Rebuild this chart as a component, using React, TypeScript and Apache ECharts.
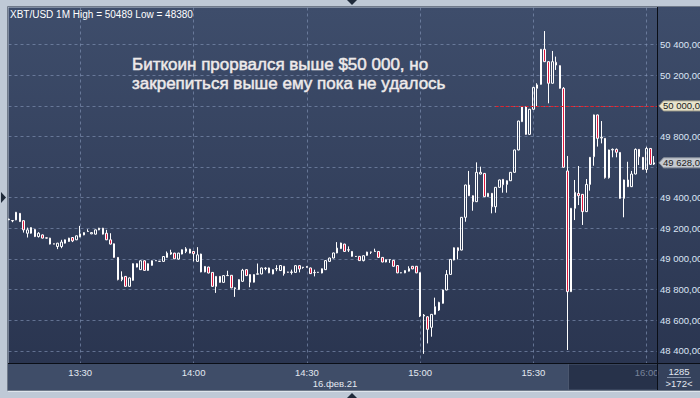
import { useEffect, useRef } from 'react';
import * as echarts from 'echarts';

// XBT/USD, one-minute bars, 16 Feb 2021
const instrument = 'XBT/USD';
const timeframe = '1M';
const sessionDate = '16.фев.21';
const firstBarTime = '13:11';
const tickCounter = 1285;

const opens = [
  49256, 49251, 49255, 49298, 49250, 49168, 49168, 49192, 49146, 49157,
  49138, 49136, 49099, 49081, 49081, 49103, 49114, 49140, 49125, 49144,
  49157, 49179, 49164, 49162, 49190, 49201, 49168, 49125, 49099, 49010,
  48865, 48886, 48821, 48860, 48969, 48930, 48988, 48925, 48958, 48988,
  48985, 48984, 49010, 49032, 49038, 48999, 49032, 49049, 49064, 49049,
  48984, 49032, 48915, 48947, 48912, 48821, 48886, 48847, 48891, 48893,
  48805, 48800, 48854, 48930, 48898, 48848, 48900, 48902, 48938, 48941,
  48902, 48935, 48924, 48952, 48914, 48912, 48912, 48956, 48944, 48945,
  48941, 48910, 48912, 48908, 48930, 48984, 49006, 49039, 49067, 49097,
  49060, 49049, 49017, 49017, 48989, 49023, 49045, 49049, 49049, 49010,
  48980, 48996, 48991, 48957, 48909, 48909, 48920, 48952, 48952, 48910,
  48627, 48622, 48553, 48638, 48666, 48710, 48797, 48899, 48993, 49073,
  49058, 49272, 49483, 49413, 49374, 49555, 49559, 49407, 49429, 49341,
  49468, 49520, 49487, 49511, 49566, 49712, 49897, 49995, 49814, 49978,
  50115, 50141, 50370, 50289, 50148, 50285, 50263, 50115, 49575, 48786,
  49331, 49428, 49422, 49309, 49487, 49668, 49941, 49790, 49788, 49531,
  49712, 49716, 49696, 49396, 49516, 49472, 49555, 49716, 49664, 49585,
  49722, 49620,
];

const closes = [
  49260, 49249, 49305, 49244, 49190, 49190, 49205, 49146, 49168, 49136,
  49136, 49097, 49097, 49103, 49110, 49125, 49136, 49118, 49151, 49164,
  49172, 49180, 49172, 49190, 49201, 49162, 49125, 49097, 49010, 48865,
  48882, 48821, 48876, 48969, 48947, 48988, 48925, 48969, 48988, 48989,
  48984, 49016, 49038, 49042, 49001, 49038, 49060, 49066, 49038, 49034,
  49027, 48915, 48951, 48908, 48821, 48886, 48847, 48891, 48892, 48811,
  48811, 48865, 48926, 48891, 48848, 48898, 48903, 48941, 48940, 48909,
  48930, 48937, 48957, 48904, 48913, 48915, 48956, 48934, 48946, 48951,
  48904, 48912, 48913, 48936, 48989, 49006, 49039, 49071, 49104, 49049,
  49058, 49017, 49016, 48989, 49021, 49045, 49044, 49050, 49010, 48980,
  48995, 48995, 48952, 48909, 48910, 48924, 48937, 48935, 48909, 48627,
  48633, 48540, 48638, 48688, 48716, 48797, 48899, 48997, 49073, 49054,
  49272, 49483, 49413, 49374, 49566, 49566, 49407, 49429, 49341, 49468,
  49516, 49485, 49511, 49566, 49712, 49901, 49995, 49814, 49978, 50121,
  50137, 50370, 50289, 50148, 50289, 50267, 50115, 49599, 48786, 49331,
  49435, 49413, 49309, 49487, 49664, 49941, 49788, 49795, 49531, 49712,
  49716, 49697, 49396, 49516, 49472, 49555, 49716, 49668, 49585, 49722,
  49618, 49628,
];

const lows = [
  49254, 49240, 49253, 49242, 49172, 49140, 49165, 49143, 49140, 49134,
  49134, 49095, 49096, 49064, 49070, 49101, 49112, 49110, 49123, 49142,
  49155, 49178, 49162, 49160, 49188, 49160, 49123, 49095, 49008, 48860,
  48854, 48819, 48819, 48858, 48945, 48928, 48923, 48923, 48956, 48987,
  48983, 48982, 49008, 49027, 48999, 48997, 49030, 49038, 49036, 48984,
  48982, 48913, 48913, 48906, 48819, 48778, 48845, 48845, 48889, 48809,
  48752, 48798, 48850, 48889, 48815, 48846, 48899, 48900, 48926, 48907,
  48900, 48920, 48922, 48891, 48911, 48898, 48910, 48912, 48936, 48943,
  48902, 48886, 48911, 48906, 48928, 48982, 49004, 49037, 49065, 49047,
  49045, 49015, 49014, 48987, 48984, 49021, 49032, 49047, 49008, 48978,
  48978, 48974, 48950, 48907, 48907, 48907, 48918, 48933, 48907, 48620,
  48380, 48448, 48492, 48636, 48660, 48708, 48795, 48897, 48991, 48997,
  49056, 49243, 49411, 49315, 49372, 49553, 49405, 49405, 49298, 49302,
  49466, 49433, 49433, 49509, 49564, 49710, 49895, 49812, 49812, 49976,
  49999, 50139, 50287, 50017, 50146, 50235, 50113, 49597, 48405, 48784,
  49254, 49352, 49222, 49307, 49446, 49609, 49734, 49755, 49525, 49525,
  49664, 49664, 49394, 49272, 49470, 49470, 49553, 49614, 49583, 49563,
  49616, 49614,
];

const highs = [
  49262, 49252, 49307, 49300, 49252, 49205, 49207, 49195, 49175, 49160,
  49140, 49138, 49100, 49105, 49125, 49127, 49138, 49142, 49153, 49216,
  49174, 49194, 49174, 49192, 49203, 49203, 49190, 49168, 49101, 49012,
  48919, 48888, 48878, 48971, 48971, 48990, 48990, 48971, 48990, 48990,
  48986, 49018, 49049, 49060, 49040, 49040, 49062, 49077, 49066, 49051,
  49077, 49034, 48953, 48949, 48914, 48888, 48888, 48893, 48923, 48895,
  48815, 48867, 48935, 48932, 48900, 48900, 48970, 48943, 48946, 48943,
  48932, 48959, 48959, 48954, 48916, 48930, 48958, 48958, 48948, 48953,
  48943, 48930, 48915, 48938, 48991, 49008, 49041, 49110, 49106, 49099,
  49082, 49051, 49019, 49019, 49023, 49047, 49047, 49067, 49051, 49012,
  48997, 48997, 48993, 48959, 48911, 48926, 48952, 48954, 48954, 48912,
  48640, 48625, 48640, 48747, 48720, 48799, 48927, 48999, 49075, 49075,
  49274, 49485, 49575, 49415, 49631, 49603, 49561, 49431, 49431, 49470,
  49518, 49522, 49513, 49568, 49714, 49903, 49997, 49997, 49980, 50123,
  50148, 50372, 50489, 50291, 50359, 50322, 50265, 50123, 49673, 49333,
  49516, 49607, 49424, 49522, 49666, 49943, 49943, 49901, 49790, 49714,
  49722, 49722, 49698, 49518, 49635, 49575, 49722, 49718, 49666, 49733,
  49724, 49672,
];

const priceTicks = [48400, 48600, 48800, 49000, 49200, 49400, 49600, 49800, 50000, 50200, 50400];
const priceMin = 48320;
const priceMax = 50643;
const breakoutLevel = 50000;
const breakoutLineFrom = '15:20';
const headline = ['Биткоин прорвался выше $50 000, но', 'закрепиться выше ему пока не удалось'];

const FONT = 'Liberation Sans, Arial, sans-serif';

const toMinutes = (t: string) => {
  const [h, m] = t.split(':').map(Number);
  return h * 60 + m;
};
const pad = (n: number) => String(n).padStart(2, '0');
const fmtTime = (m: number) => `${pad(Math.floor(m / 60))}:${pad(m % 60)}`;

// one slot per bar plus an empty slot on the right edge
const times = Array.from({ length: opens.length + 1 }, (_, k) => fmtTime(toMinutes(firstBarTime) + k));

const formatPrice = (v: number) => {
  const [i, d] = v.toFixed(2).split('.');
  return `${i.replace(/\B(?=(\d{3})+(?!\d))/g, ' ')},${d}`;
};

export default function App() {
  const ref = useRef<HTMLDivElement>(null);

  useEffect(() => {
    const chart = echarts.init(ref.current!, null, { renderer: 'svg' });
    const isHalfHour = (_: number, v: string) => v.endsWith(':00') || v.endsWith(':30');
    const gridLine = { color: 'rgba(132,150,184,0.62)', type: [3, 3] as number[], width: 1 };
    const candles = opens.map((o, i) => [o, closes[i], lows[i], highs[i]]);
    const hi = Math.max(...highs);
    const lo = Math.min(...lows);
    const lastClose = closes[closes.length - 1];
    // axis labels that sit under a price tag are left to the tag
    const underTag = (v: number) => Math.abs(v - breakoutLevel) < 40 || Math.abs(v - lastClose) < 60;

    chart.setOption({
      animation: false,
      backgroundColor: 'transparent',
      grid: {
        left: 8.5,
        right: 42,
        top: 7.5,
        bottom: 35,
        containLabel: false,
        outerBoundsMode: 'none',
        show: true,
        borderWidth: 0,
        backgroundColor: new echarts.graphic.LinearGradient(0, 0, 0, 1, [
          { offset: 0, color: '#3e4d6b' },
          { offset: 1, color: '#2a3550' },
        ]),
      },
      xAxis: {
        type: 'category',
        data: times,
        boundaryGap: false,
        axisLine: { show: false },
        axisTick: { show: false },
        axisLabel: {
          interval: isHalfHour,
          margin: 4,
          fontSize: 9.5,
          fontFamily: FONT,
          color: (v: string) => (v === '16:00' ? '#77839a' : '#e3e8f0'),
        },
        splitLine: { show: true, interval: isHalfHour, lineStyle: gridLine },
      },
      yAxis: {
        type: 'value',
        position: 'right',
        min: priceMin,
        max: priceMax,
        splitNumber: 12,
        minInterval: 200,
        maxInterval: 200,
        axisLine: { show: false },
        axisTick: { show: false, customValues: priceTicks },
        axisLabel: {
          customValues: priceTicks,
          formatter: (v: number) => (underTag(v) ? '' : formatPrice(v)),
          margin: 2,
          align: 'left',
          fontSize: 9.5,
          fontFamily: FONT,
          color: '#dce5f5',
        },
        splitLine: { show: true, lineStyle: gridLine },
      },
      series: [
        {
          type: 'candlestick',
          data: candles,
          barWidth: 2,
          clip: false,
          itemStyle: {
            color: 'rgba(0,0,0,0)',
            color0: '#e1183e',
            borderColor: '#ffffff',
            borderColor0: '#ffffff',
            borderWidth: 1,
          },
          markLine: {
            silent: true,
            symbol: ['none', 'none'],
            label: { show: false },
            lineStyle: { color: '#e8202a', type: [3, 2], width: 1 },
            data: [[{ coord: [breakoutLineFrom, breakoutLevel] }, { coord: [times[times.length - 1], breakoutLevel] }]],
          },
        },
      ],
    });

    const yLevel = chart.convertToPixel({ yAxisIndex: 0 }, breakoutLevel) as number;
    const yLast = chart.convertToPixel({ yAxisIndex: 0 }, lastClose) as number;

    const tag = (y: number, fill: string, stroke: string, value: number) => ({
      type: 'group',
      z: 100,
      children: [
        {
          type: 'polygon',
          shape: { points: [[659, y], [663.5, y - 5], [701, y - 5], [701, y + 5], [663.5, y + 5]] },
          style: { fill, stroke, lineWidth: 1 },
        },
        {
          type: 'text',
          x: 663,
          y,
          style: { text: formatPrice(value), fill: '#1b1b1b', fontSize: 9.5, fontFamily: FONT, verticalAlign: 'middle' },
        },
      ],
    });

    const tri = (points: number[][]) => ({ type: 'polygon', z: 50, shape: { points }, style: { fill: '#1f2a3a' } });

    chart.setOption({
      graphic: [
        // price panel on the right
        {
          type: 'rect',
          z: -1,
          shape: { x: 658, y: 7, width: 42, height: 356 },
          style: {
            fill: new echarts.graphic.LinearGradient(0, 0, 0, 1, [
              { offset: 0, color: '#3e4d6b' },
              { offset: 1, color: '#2a3550' },
            ]),
          },
        },
        // time strip
        { type: 'rect', z: -1, shape: { x: 8, y: 364, width: 650, height: 26 }, style: { fill: '#3f4d68' } },
        { type: 'rect', z: -1, shape: { x: 568.5, y: 364, width: 89, height: 26 }, style: { fill: '#27324a', stroke: '#4a566e', lineWidth: 1 } },
        { type: 'rect', z: -1, shape: { x: 658, y: 364, width: 42, height: 26 }, style: { fill: '#35425c' } },
        // separators and frame
        { type: 'line', z: 40, shape: { x1: 657.5, y1: 7, x2: 657.5, y2: 390 }, style: { stroke: '#0a0e16', lineWidth: 1 } },
        { type: 'line', z: 40, shape: { x1: 8, y1: 363.5, x2: 700, y2: 363.5 }, style: { stroke: '#0a0e16', lineWidth: 1 } },
        { type: 'rect', z: 40, shape: { x: 7.5, y: 6.5, width: 700, height: 384 }, style: { fill: 'none', stroke: '#707a8a', lineWidth: 1 } },
        { type: 'line', z: 40, shape: { x1: 8, y1: 391.5, x2: 700, y2: 391.5 }, style: { stroke: '#dfe5ec', lineWidth: 1 } },
        // scroll markers
        tri([[347, 0], [357, 0], [352, 5]]),
        tri([[347, 398], [357, 398], [352, 393]]),
        tri([[1, 192], [1, 203], [6, 197.5]]),
        // header
        {
          type: 'text',
          z: 60,
          x: 10,
          y: 14.5,
          style: {
            text: `${instrument} ${timeframe} High = ${hi} Low = ${lo}`,
            fill: '#ffffff',
            fontSize: 10,
            fontFamily: FONT,
            verticalAlign: 'middle',
          },
        },
        // headline, two lines in one block
        {
          type: 'text',
          z: 60,
          x: 132,
          y: 74,
          style: {
            text: headline.join('\n'),
            fill: '#eeeaea',
            stroke: '#eeeaea',
            lineWidth: 0.5,
            fontSize: 17,
            lineHeight: 19,
            fontFamily: FONT,
            verticalAlign: 'middle',
          },
        },
        // date under the time axis
        {
          type: 'text',
          z: 60,
          x: 335,
          y: 383,
          style: { text: sessionDate, fill: '#e3e8f0', fontSize: 9.5, fontFamily: FONT, align: 'center', verticalAlign: 'middle' },
        },
        // bottom-right counters
        {
          type: 'text',
          z: 60,
          x: 679,
          y: 371,
          style: { text: String(tickCounter), fill: '#e3e8f0', fontSize: 9.5, fontFamily: FONT, align: 'center', verticalAlign: 'middle' },
        },
        { type: 'line', z: 60, shape: { x1: 667, y1: 377.5, x2: 691, y2: 377.5 }, style: { stroke: '#8592a8', lineWidth: 1 } },
        {
          type: 'text',
          z: 60,
          x: 679,
          y: 383.5,
          style: { text: `>${opens.length}<`, fill: '#e3e8f0', fontSize: 9.5, fontFamily: FONT, align: 'center', verticalAlign: 'middle' },
        },
        // price tags
        tag(yLevel, '#e8e4cc', '#a9a590', breakoutLevel),
        tag(yLast, '#c5c9d0', '#8d939d', lastClose),
      ],
    });

    return () => chart.dispose();
  }, []);

  return (
    <div
      ref={ref}
      style={{ position: 'fixed', left: 0, top: 0, width: 700, height: 398, background: '#bfc9d6', overflow: 'hidden' }}
    />
  );
}
